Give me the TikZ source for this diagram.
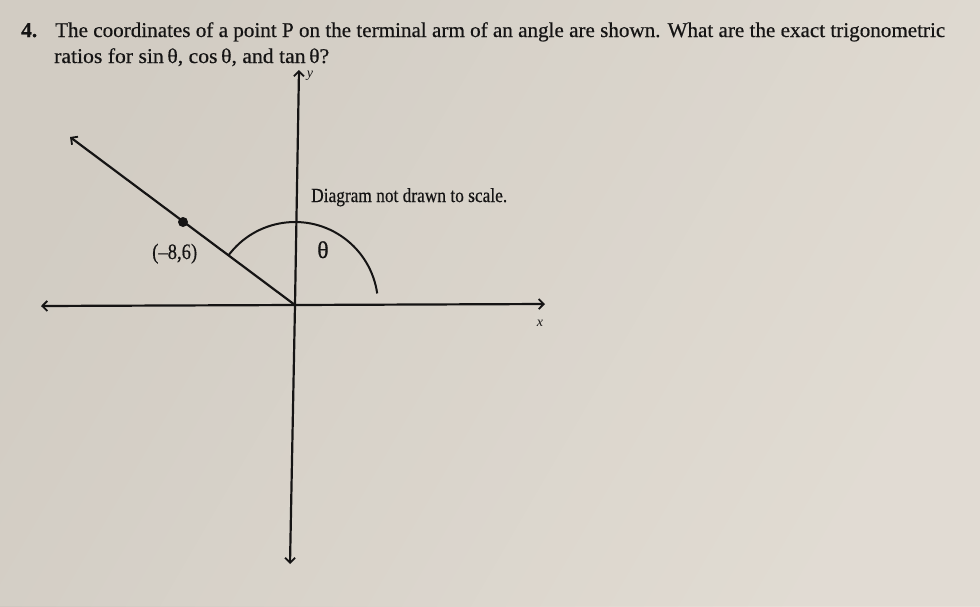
\documentclass[tikz,border=0pt]{standalone}
\usepackage{fontspec}
\setmainfont{Liberation Serif}
\newfontfamily\inkfont[FakeBold=0.5]{Liberation Serif}
\usepackage{graphicx}
\usetikzlibrary{arrows.meta}
\definecolor{paper}{HTML}{DDD7CD}
\definecolor{paperlight}{HTML}{E5E0D8}
\definecolor{paperdark}{HTML}{C9C4BC}
\definecolor{ink}{HTML}{151414}
\tikzset{
  axis/.style={draw=ink, line width=2.2pt, -{Straight Barb[length=5pt,width=10pt,line width=1.8pt]}},
  ray/.style={draw=ink, line width=2.2pt, -{Straight Barb[length=5pt,width=10pt,line width=1.8pt]}},
  anglearc/.style={draw=ink, line width=2pt},
  title/.style={anchor=base west, inner sep=0pt, text=ink, font=\inkfont\fontsize{21}{24}\selectfont},
  lbl/.style={anchor=base west, inner sep=0pt, text=ink, font=\inkfont\fontsize{20}{24}\selectfont},
  axlbl/.style={inner sep=0pt, text=ink, font=\fontsize{14}{16}\selectfont\itshape},
}
\begin{document}
\begin{tikzpicture}[x=1pt,y=-1pt]
\useasboundingbox (0,0) rectangle (980,606);
\shade[left color=paperdark, right color=paperlight, shading angle=60] (0,0) rectangle (980,606);
\fill[paper, opacity=0.45] (0,0) rectangle (980,606);
% title
\node[title] (num) at (21,37) {\resizebox{16pt}{\height}{\bfseries 4.}};
\node[title] (q1) at (55,37) {\resizebox{890pt}{\height}{The coordinates of a point P on the terminal arm of an angle are shown. What are the exact trigonometric}};
\node[title] (q2) at (54,63) {\resizebox{275pt}{\height}{ratios for sin\,θ, cos\,θ, and tan\,θ?}};
% axes
\coordinate (O) at (295,305);
\coordinate (ytop) at (299,70);
\coordinate (ybot) at (290,564);
\coordinate (xleft) at (41,306);
\coordinate (xright) at (545,304);
\coordinate (Ptip) at (70,137);
\draw[axis] (O) -- (ytop);
\draw[axis] (O) -- (ybot);
\draw[axis] (O) -- (xleft);
\draw[axis] (O) -- (xright);
\draw[ray] (O) -- (Ptip);
% angle arc
\draw[anglearc] ([shift={(-143.5:83)}]O) arc[start angle=-143.5, end angle=-8, radius=83];
% point
\node[circle, fill=ink, inner sep=0pt, minimum size=10pt] (P) at (183,222) {};
% labels
\node[lbl, font=\inkfont\fontsize{22}{24}\selectfont] (coord) at (152,259) {\resizebox{45pt}{\height}{(–8,6)}};
\node[lbl, font=\inkfont\fontsize{24}{26}\selectfont] (theta) at (317,258) {θ};
\node[lbl] (note) at (311,202) {\resizebox{196pt}{\height}{Diagram not drawn to scale.}};
\node[axlbl] (ylab) at (310,76) {y};
\node[axlbl] (xlab) at (540,323) {x};
\end{tikzpicture}
\end{document}
